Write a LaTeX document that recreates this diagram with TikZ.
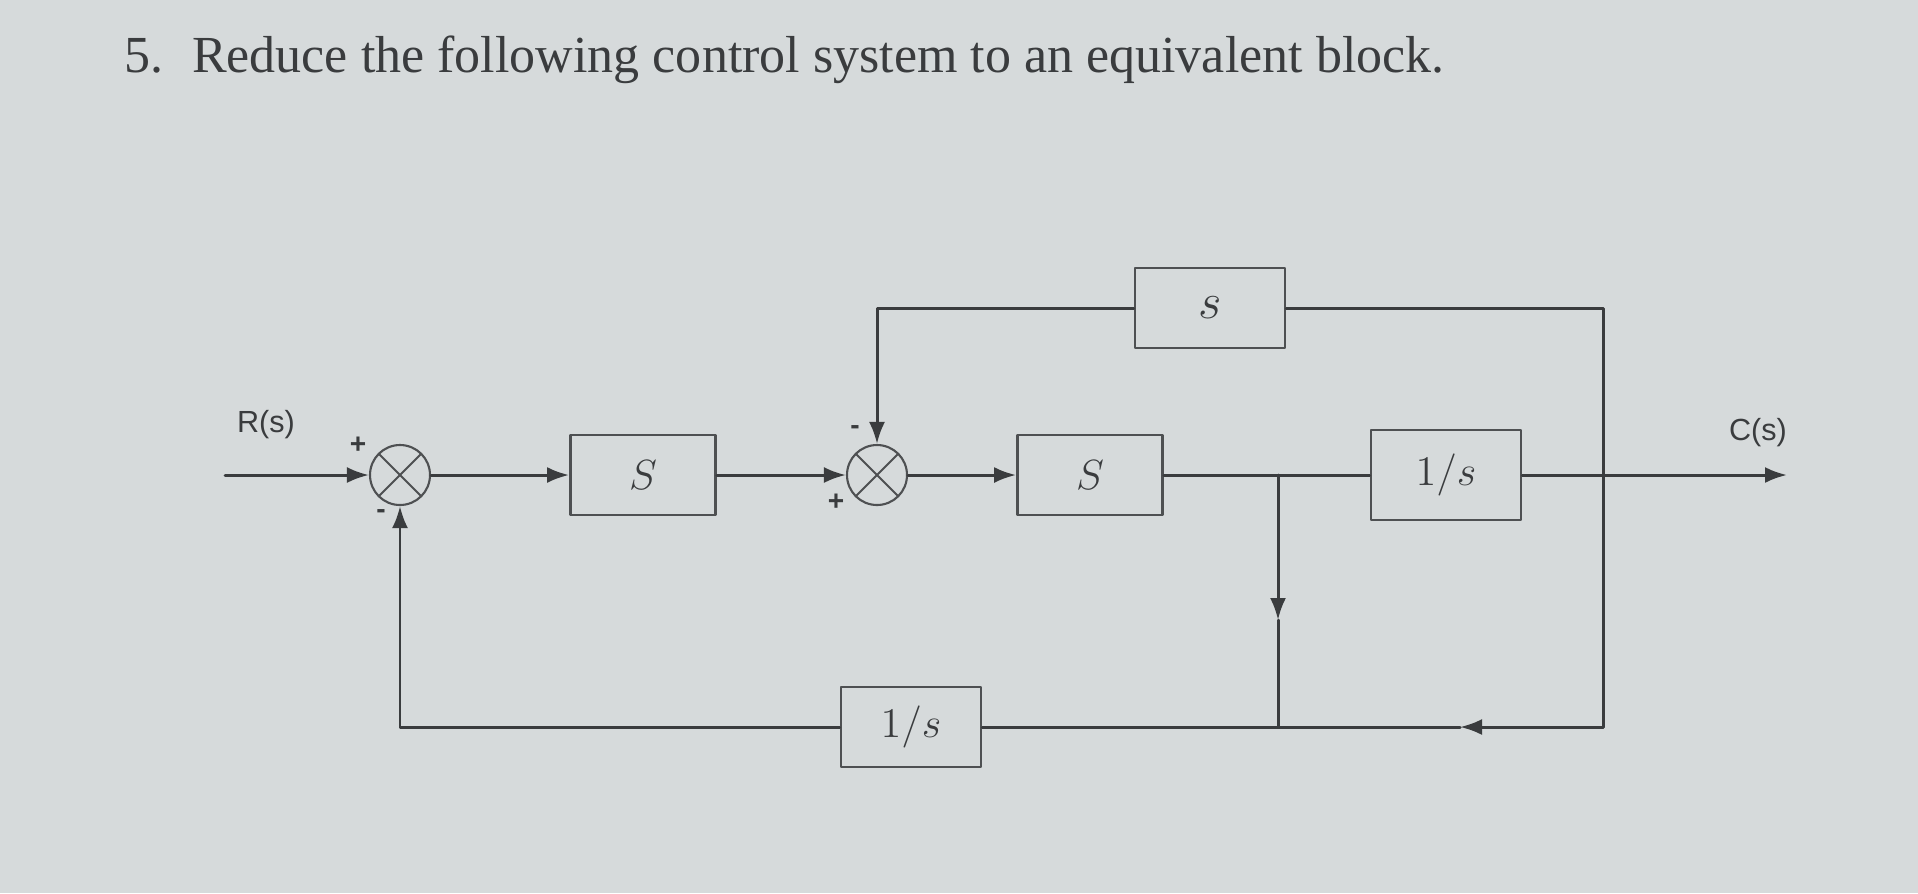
\documentclass[tikz,border=0pt]{standalone}
\usepackage{fontspec}
\setmainfont{Liberation Serif}
\setsansfont{Liberation Sans}
\usetikzlibrary{arrows.meta}
\definecolor{paper}{RGB}{214,218,219}
\definecolor{ink}{RGB}{58,60,62}
\definecolor{edge}{RGB}{78,80,82}
\tikzset{
  blk/.style={draw=edge, line width=0.8pt, minimum width=14.5mm, minimum height=8mm, inner sep=0pt, text=ink, font=\fontsize{12}{14}\selectfont},
  sumnode/.style={circle, draw=edge, line width=0.6pt, minimum size=6mm, inner sep=0pt,
    path picture={\draw[edge, line width=0.55pt] (path picture bounding box.south east) -- (path picture bounding box.north west)
      (path picture bounding box.south west) -- (path picture bounding box.north east);}},
  sig/.style={text=ink, font=\sffamily\fontsize{8.7}{10}\selectfont},
  sgn/.style={text=ink, inner sep=0pt, font=\sffamily\bfseries\fontsize{8}{9}\selectfont},
  wire/.style={draw=ink, line width=0.85pt},
}
\begin{document}
\begin{tikzpicture}[line cap=round,line join=round,>={Latex[length=2.2mm,width=1.6mm]},x=0.1mm,y=-0.1mm]
\useasboundingbox[fill=paper] (0,0) rectangle (1918,893);
\node[anchor=base west, text=ink, font=\fontsize{14.8}{18}\selectfont] (title) at (112,72) {5.\hspace{0.55em}Reduce the following control system to an equivalent block.};
% forward path
\node[sig] (Rs) at (266,425) {R(s)};
\coordinate (in) at (225,475);
\node[sumnode] (sum1) at (400,475) {};
\node[blk] (g1) at (643,475) {$S$};
\node[sumnode] (sum2) at (877,475) {};
\node[blk] (g2) at (1090,475) {$S$};
\coordinate (b1) at (1278,475);
\node[blk, minimum width=15mm, minimum height=9mm] (g3) at (1446,475) {$1/s$};
\coordinate (out) at (1787,475);
\node[sig] (Cs) at (1758,433) {C(s)};
% feedback blocks
\node[blk, minimum width=15mm, font=\fontsize{14}{16}\selectfont] (h1) at (1210,308) {$s$};
\node[blk, minimum width=14mm] (h2) at (911,727) {$1/s$};
\coordinate (br) at (1603,727);
\coordinate (mid) at (1460,727);
\coordinate (b2) at (1278,620);
\coordinate (b3) at (1278,727);
% signs
\node[sgn] (p1) at (358,445) {+};
\node[sgn] (m1) at (381,514) {-};
\node[sgn] (m2) at (855,430) {-};
\node[sgn] (p2) at (836,502) {+};
% connectors
\draw[wire,->] (in) -- (sum1.west);
\draw[wire,->] (sum1.east) -- (g1.west);
\draw[wire,->] (g1.east) -- (sum2.west);
\draw[wire,->] (sum2.east) -- (g2.west);
\draw[wire] (g2.east) -- (b1) -- (g3.west);
\draw[wire,->] (g3.east) -- (out);
\draw[wire,->] (h1.west) -| (sum2.north);
\draw[wire] (h1.east) -| (br);
\draw[wire,->] (br) -- (mid);
\draw[wire] (mid) -- (h2.east);
\draw[wire,->] (b1) -- (b2);
\draw[wire] (b2) -- (b3);
\draw[wire,->] (h2.west) -| (sum1.south);
\end{tikzpicture}
\end{document}
